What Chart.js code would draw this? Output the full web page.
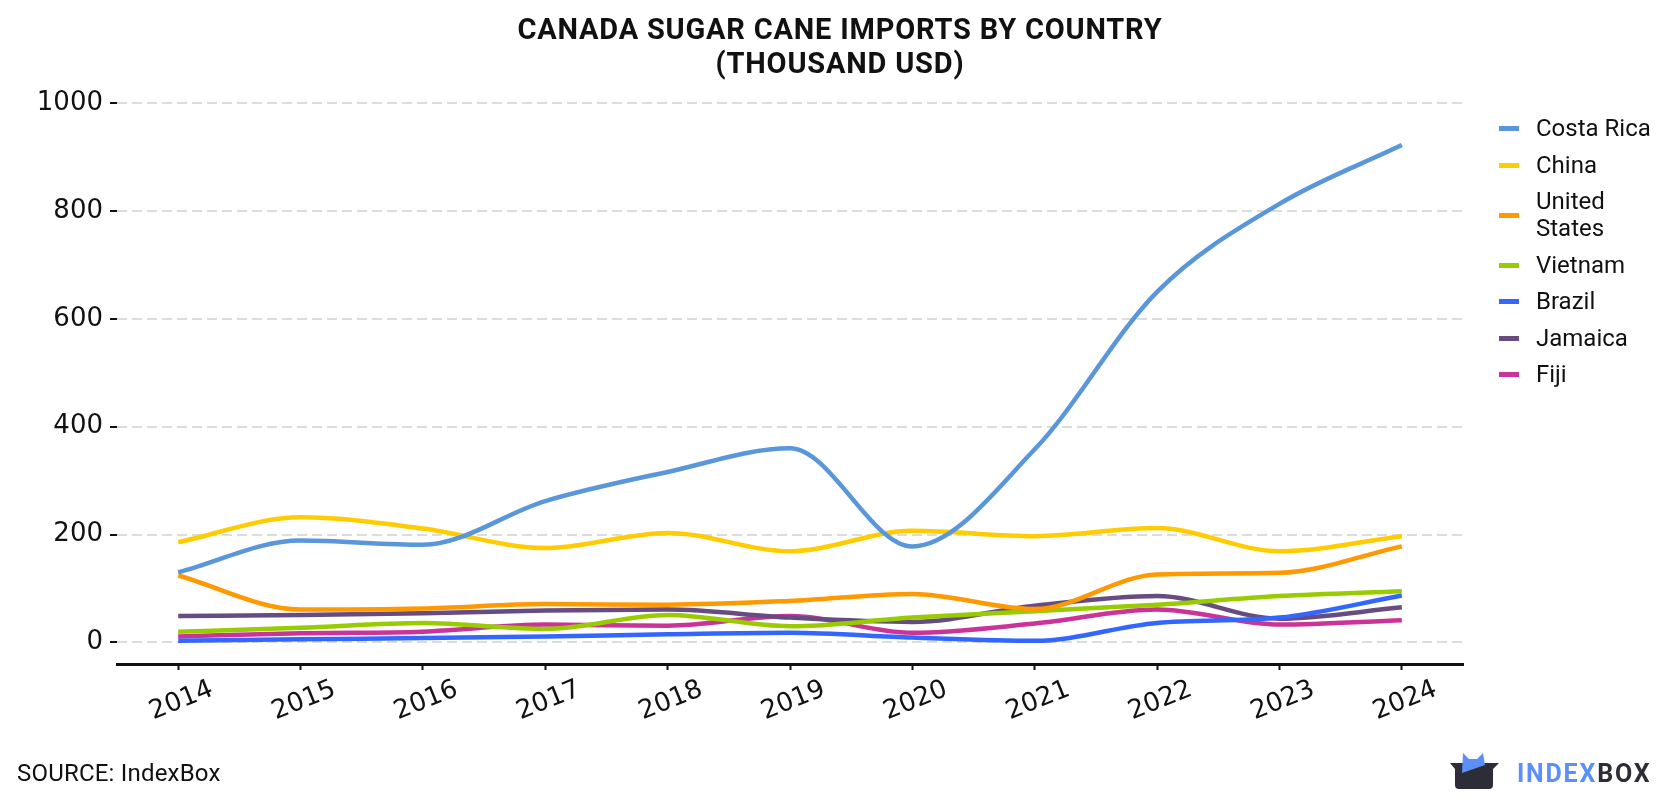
<!DOCTYPE html>
<html>
<head>
<meta charset="utf-8">
<script src="https://cdn.jsdelivr.net/npm/chart.js@4.4.0/dist/chart.umd.min.js"></script>
<style>
  html, body { margin: 0; padding: 0; background: #fff; }
  #wrap { position: relative; width: 1680px; height: 800px; overflow: hidden; font-family: Roboto, sans-serif; }
  #chart { position: absolute; left: 0; top: 0; }
  #title { position: absolute; left: 0; top: 12px; width: 1680px; text-align: center;
           font: bold 29px/34px Roboto; letter-spacing: 0.8px; color: #111; }
  #legend { position: absolute; left: 1499px; top: 115px; margin: 0; padding: 0; list-style: none; }
  #legend li { display: flex; align-items: center; margin-bottom: 9.5px; }
  #legend .sw { width: 20px; height: 5px; margin-right: 17px; flex: none; }
  #legend .tx { width: 125px; font: 24px/27px Roboto; color: #111; }
  #source { position: absolute; left: 17px; top: 759px; font: 24px/28px Roboto; letter-spacing: 0.2px; color: #111; }
  #logo { position: absolute; left: 1448px; top: 750px; }
  #brand { position: absolute; left: 1517px; top: 759px; font: bold 25px/30px Roboto; letter-spacing: 1.8px; }
</style>
</head>
<body>
<div id="wrap">
  <canvas id="chart" width="1680" height="800"></canvas>
  <div id="title">CANADA SUGAR CANE IMPORTS BY COUNTRY<br>(THOUSAND USD)</div>
  <ul id="legend"></ul>
  <div id="source">SOURCE: IndexBox</div>
  <svg id="logo" width="54" height="42" viewBox="0 0 54 42">
    <path d="M2 13 H51 L45 19 V35 Q45 39 41 39 H11 Q7 39 7 35 V19 Z" fill="#2d2d38"/>
    <polygon points="14,23 15,3 21,9 29,9 35,3 37,15" fill="#5b8ff9"/>
  </svg>
  <div id="brand"><span style="color:#5b8ff9">INDEX</span><span style="color:#2d2d38">BOX</span></div>
</div>
<script>
// values in thousand USD
const years = ['2014', '2015', '2016', '2017', '2018', '2019', '2020', '2021', '2022', '2023', '2024'];
const costaRica    = [130, 189, 181, 262, 316, 360, 178, 358, 650, 813, 922];
const china        = [186, 232, 211, 175, 203, 169, 207, 197, 212, 169, 197];
const unitedStates = [124, 61, 63, 71, 70, 77, 90, 62, 126, 129, 178];
const vietnam      = [20, 27, 36, 25, 51, 30, 46, 58, 70, 86, 95];
const brazil       = [3, 6, 8, 11, 15, 18, 9, 3, 36, 46, 87];
const jamaica      = [49, 51, 54, 59, 61, 46, 38, 68, 86, 44, 65];
const fiji         = [11, 17, 20, 33, 31, 49, 18, 35, 61, 33, 41];
const yTicks = [0, 200, 400, 600, 800, 1000];

const series = [
    { name: 'Costa Rica', values: costaRica, color: '#5a96da' },
    { name: 'China', values: china, color: '#ffcc00' },
    { name: 'United States', values: unitedStates, color: '#ff9900' },
    { name: 'Vietnam', values: vietnam, color: '#99cc00' },
    { name: 'Brazil', values: brazil, color: '#3366ff' },
    { name: 'Jamaica', values: jamaica, color: '#664c80' },
    { name: 'Fiji', values: fiji, color: '#cc3399' }
];

const chart = new Chart(document.getElementById('chart'), {
    type: 'line',
    data: {
        labels: years,
        datasets: series.map(s => ({
            label: s.name,
            data: s.values,
            borderColor: s.color,
            backgroundColor: s.color,
            borderWidth: 4.5,
            pointRadius: 0,
            pointHoverRadius: 0,
            cubicInterpolationMode: 'monotone',
            fill: false
        }))
    },
    options: {
        responsive: false,
        animation: false,
        devicePixelRatio: 1,
        layout: { padding: { left: 0, right: 217, top: 103, bottom: 56 } },
        plugins: {
            legend: { display: false },
            title: { display: false },
            tooltip: { enabled: false }
        },
        scales: {
            x: {
                offset: true,
                grid: { drawOnChartArea: false, drawTicks: true, tickLength: 6, tickColor: '#111', tickWidth: 2, color: '#111' },
                border: { display: true, color: '#111', width: 3 },
                ticks: {
                    font: { family: 'DejaVu Sans', size: 26 },
                    color: '#111',
                    minRotation: 22,
                    maxRotation: 22,
                    labelOffset: 34,
                    padding: 4,
                    autoSkip: false
                },
                afterFit: scale => { scale.height = 80; }
            },
            y: {
                min: -40,
                max: 1000,
                afterBuildTicks: scale => { scale.ticks = yTicks.map(v => ({ value: v })); },
                afterFit: scale => { scale.width = 117; },
                grid: {
                    color: '#dcdcdc',
                    lineWidth: 2,
                    borderDash: [10, 5],
                    tickLength: 7,
                    tickColor: '#111',
                    tickWidth: 2,
                    tickBorderDash: []
                },
                border: { display: false, dash: [10, 5] },
                ticks: {
                    font: { family: 'DejaVu Sans', size: 26 },
                    color: '#111',
                    padding: 7,
                    callback: v => String(v)
                }
            }
        }
    }
});

// html legend, built from the datasets
const legend = document.getElementById('legend');
chart.data.datasets.forEach(ds => {
    const li = document.createElement('li');
    li.innerHTML = `<span class="sw" style="background:${ds.borderColor}"></span><span class="tx">${ds.label}</span>`;
    legend.appendChild(li);
});
</script>
</body>
</html>
